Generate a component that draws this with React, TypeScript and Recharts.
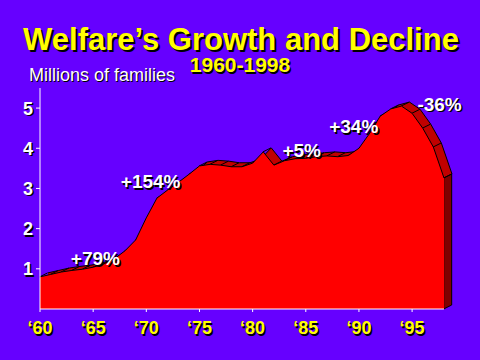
import React from 'react';
import { ComposedChart, Area, Bar, XAxis, YAxis, ReferenceDot } from 'recharts';

const years = [1960, 1961, 1962, 1963, 1964, 1965, 1966, 1967, 1968, 1969, 1970, 1971, 1972, 1973, 1974, 1975, 1976, 1977, 1978, 1979, 1980, 1981, 1982, 1983, 1984, 1985, 1986, 1987, 1988, 1989, 1990, 1991, 1992, 1993, 1994, 1995, 1996, 1997, 1998];
const families = [0.80, 0.86, 0.92, 0.96, 0.99, 1.04, 1.12, 1.25, 1.45, 1.72, 2.27, 2.76, 2.96, 3.15, 3.35, 3.56, 3.60, 3.58, 3.54, 3.54, 3.63, 3.91, 3.58, 3.69, 3.74, 3.75, 3.79, 3.81, 3.79, 3.82, 4.00, 4.37, 4.80, 4.98, 5.05, 4.87, 4.50, 4.03, 3.26];
const xTicks = [1960, 1965, 1970, 1975, 1980, 1985, 1990, 1995];
const xTickLabels = ['\u201860', '\u201865', '\u201870', '\u201875', '\u201880', '\u201885', '\u201890', '\u201895'];
const yTicks = [1, 2, 3, 4, 5];
const noteTexts = ['+79%', '+154%', '+5%', '+34%', '-36%'];
const noteYears = [1962.9, 1967.6, 1982.8, 1987.2, 1995.5];
const noteValues = [1.095, 3.01, 3.78, 4.38, 4.93];

const data = years.map((y, i) => ({ year: y, value: families[i] }));

const FONT = '"Liberation Sans", Arial, sans-serif';
const BG = '#6600FF';
const DX = 8;
const DY = -4;

function ShadowText({ x, y, text, fill, size, weight = 'bold', anchor = 'start', off = 1.5 }: any) {
  return (
    <g>
      <text x={x + off} y={y + off} fill="#000" fontSize={size} fontWeight={weight} fontFamily={FONT} textAnchor={anchor}>{text}</text>
      <text x={x} y={y} fill={fill} fontSize={size} fontWeight={weight} fontFamily={FONT} textAnchor={anchor}>{text}</text>
    </g>
  );
}

function XTick(props: any) {
  const i = xTicks.indexOf(props.payload.value);
  const label = i >= 0 ? xTickLabels[i] : String(props.payload.value);
  return <ShadowText x={props.x} y={props.y + 20} text={label} fill="#FFFF00" size={18} anchor="middle" />;
}

function YTick(props: any) {
  return <ShadowText x={props.x - 1} y={props.y + 6.5} text={String(props.payload.value)} fill="#FFFFFF" size={18} anchor="end" />;
}

function DepthEdges(p: any) {
  if (p.x == null || p.y == null) return null;
  const cx = p.x + p.width / 2;
  const y = p.y;
  const h = p.height;
  const last = p.index === families.length - 1;
  return (
    <g>
      {last && (
        <polygon
          points={`${cx},${y} ${cx + DX},${y + DY} ${cx + DX},${y + h + DY} ${cx},${y + h}`}
          fill="#800000"
          stroke="#000"
          strokeWidth={1}
        />
      )}
      <line x1={cx} y1={y} x2={cx + DX} y2={y + DY} stroke="#000" strokeWidth={1} />
    </g>
  );
}

function Note(text: string) {
  return (p: any) => <ShadowText x={p.cx} y={p.cy} text={text} fill="#FFFFFF" size={19} />;
}

export default function App() {
  return (
    <div style={{ position: 'absolute', left: 0, top: 0, width: 480, height: 360, background: BG, overflow: 'hidden' }}>
      <style>{`.depth-area { transform: translate(${DX}px, ${DY}px); }`}</style>
      <ComposedChart width={480} height={360} data={data} margin={{ top: 88, right: 36, bottom: 0, left: 0 }}>
        <XAxis
          dataKey="year"
          type="number"
          domain={[1960, 1998]}
          ticks={xTicks}
          interval={0}
          tick={<XTick />}
          tickSize={3}
          height={51}
          axisLine={{ stroke: '#FFFFFF', strokeWidth: 1 }}
          tickLine={{ stroke: '#FFFFFF', strokeWidth: 1 }}
        />
        <YAxis
          type="number"
          domain={[0, 5.5]}
          ticks={yTicks}
          interval={0}
          tick={<YTick />}
          tickSize={4}
          width={40}
          axisLine={{ stroke: '#FFFFFF', strokeWidth: 1 }}
          tickLine={{ stroke: '#FFFFFF', strokeWidth: 1 }}
        />
        <Area
          className="depth-area"
          dataKey="value"
          type="linear"
          fill="#C00000"
          fillOpacity={1}
          stroke="#000000"
          strokeWidth={1}
          dot={false}
          activeDot={false}
          isAnimationActive={false}
          zIndex={10}
        />
        <Bar dataKey="value" barSize={2} shape={<DepthEdges />} isAnimationActive={false} zIndex={50} />
        <Area
          dataKey="value"
          type="linear"
          fill="#FF0000"
          fillOpacity={1}
          stroke="#000000"
          strokeWidth={1}
          dot={false}
          activeDot={false}
          isAnimationActive={false}
          zIndex={100}
        />
        {noteTexts.map((t, i) => (
          <ReferenceDot key={t} x={noteYears[i]} y={noteValues[i]} r={0} shape={Note(t)} ifOverflow="visible" zIndex={2000} />
        ))}
      </ComposedChart>
      <svg width={480} height={360} style={{ position: 'absolute', left: 0, top: 0, pointerEvents: 'none' }}>
        <ShadowText x={241} y={50} text={'Welfare\u2019s Growth and Decline'} fill="#FFFF00" size={31} anchor="middle" off={2} />
        <ShadowText x={240} y={72} text="1960-1998" fill="#FFFF00" size={21} anchor="middle" off={1.5} />
        <ShadowText x={29} y={81} text="Millions of families" fill="#FFFFFF" size={18} weight="normal" off={1} />
      </svg>
    </div>
  );
}
